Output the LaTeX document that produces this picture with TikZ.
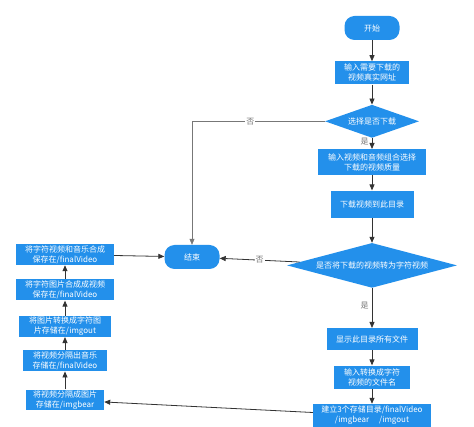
\documentclass[tikz,border=0pt]{standalone}
\usepackage{fontspec}
\setmainfont{Noto Sans CJK SC}
\usetikzlibrary{arrows.meta,positioning,shapes.geometric}
\definecolor{flowblue}{HTML}{2390EB}
\definecolor{ink}{HTML}{333333}
\definecolor{soft}{HTML}{777777}

\begin{document}
\begin{tikzpicture}[x=1pt,y=-1pt,
  font=\fontsize{8pt}{10pt}\selectfont,
  term/.style={fill=flowblue,text=white,rounded corners=10pt,minimum width=55pt,minimum height=24pt,inner sep=1pt},
  proc/.style={fill=flowblue,text=white,align=center,inner sep=1pt},
  choice/.style={diamond,fill=flowblue,text=white,aspect=3,inner sep=0pt},
  arr/.style={-{Triangle[length=6pt,width=5pt]},line width=0.8pt,color=ink},
  lab/.style={fill=white,text=soft,inner sep=1pt}]
\useasboundingbox (0,0) rectangle (474,427);
% main column
\node[term] (start) at (372,28) {开始};
\node[proc,below=21pt of start,minimum width=74pt,minimum height=23pt] (url) {输入需要下载的\\视频真实网址};
\node[choice,below=20pt of url,minimum width=94pt,minimum height=33pt] (dl) {选择是否下载};
\node[proc,below=11pt of dl,minimum width=108pt,minimum height=26pt] (qual) {输入视频和音频组合选择\\下载的视频质量};
\node[proc,below=15pt of qual,minimum width=83pt,minimum height=27pt] (save) {下载视频到此目录};
\node[choice,below=25pt of save,minimum width=170pt,minimum height=32pt] (conv) {是否将下载的视频转为字符视频};
\node[proc,below=40pt of conv,minimum width=91pt,minimum height=22pt] (list) {显示此目录所有文件};
\node[proc,below=15pt of list,minimum width=76pt,minimum height=23pt] (fname) {输入转换成字符\\视频的文件名};
\node[proc,below=15pt of fname,minimum width=118pt,minimum height=23pt] (mkdir) {建立3个存储目录/finalVideo\\/imgbear\quad\ /imgout};
\node[term] (end) at (192,257) {结束};
% left column
\node[proc,minimum width=78pt,minimum height=19pt] (split) at (65,400) {将视频分隔成图片\\存储在/imgbear};
\node[proc,above=18pt of split,minimum width=84pt,minimum height=21pt] (audio) {将视频分隔出音乐\\存储在/finalVideo};
\node[proc,above=13pt of audio,minimum width=92pt,minimum height=21pt] (ascii) {将图片转换成字符图\\片存储在/imgout};
\node[proc,above=15pt of ascii,minimum width=98pt,minimum height=21pt] (video) {将字符图片合成成视频\\保存在/finalVideo};
\node[proc,above=14pt of video,minimum width=98pt,minimum height=21pt] (merge) {将字符视频和音乐合成\\保存在/finalVideo};
\draw[arr] (start) -- (url);
\draw[arr] (url) -- (dl);
\draw[arr] (dl) -- node[pos=0.35,left=3pt,text=soft,inner sep=0pt] {是} (qual);
\draw[arr] (qual) -- (save);
\draw[arr] (save) -- (conv);
\draw[arr] (conv) -- node[pos=0.45,left=3pt,text=soft,inner sep=0pt] {是} (list);
\draw[arr] (list) -- (fname);
\draw[arr] (fname) -- (mkdir);
\draw[arr] (mkdir) -- (split);
\draw[arr] (split) -- (audio);
\draw[arr] (audio) -- (ascii);
\draw[arr] (ascii) -- (video);
\draw[arr] (video) -- (merge);
\draw[arr] (merge) -- (end);
\draw[arr] (conv) -- node[lab] {否} (end);
\draw[arr,line width=0.6pt,color=soft] (dl.west) -| node[lab,pos=0.28] {否} (end.north);
\end{tikzpicture}
\end{document}
